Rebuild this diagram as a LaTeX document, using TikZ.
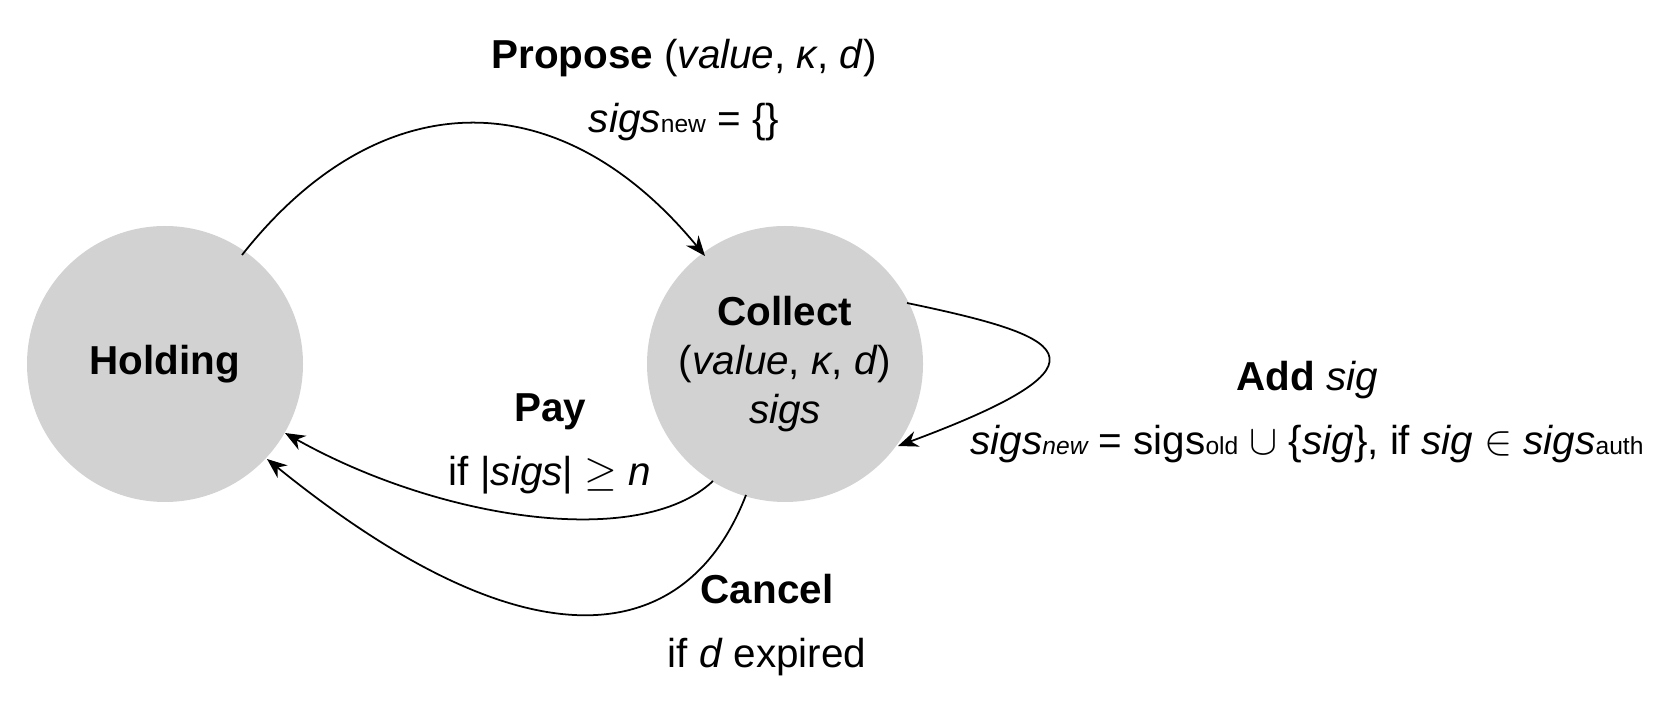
\documentclass[tikz,border=0pt]{standalone}
\usepackage{fontspec}
\setmainfont{Liberation Sans}
\usetikzlibrary{arrows.meta}
\begin{document}
\begin{tikzpicture}[
  st/.style={circle,fill=gray!35,minimum size=2.76cm,inner sep=0pt,align=center,font=\fontsize{11.5}{14}\selectfont},
  lb/.style={align=center,font=\fontsize{11.5}{16}\selectfont},
  ar/.style={-{Stealth[length=2mm,width=1.6mm]},line width=0.5pt}]
\useasboundingbox (0,0) rectangle (16.78,7.10);
\node[st] (H) at (1.65,3.46) {\textbf{Holding}};
\node[st] (C) at (7.85,3.46) {\textbf{Collect}\\(\textit{value}, \textit{κ}, \textit{d})\\\textit{sigs}};
\node[lb] (P) at (6.84,6.2) {\textbf{Propose} (\textit{value}, \textit{κ}, \textit{d})\\[2pt]\textit{sigs}{\scriptsize new} = \{\}};
\node[lb] (A) at (13.07,2.98) {\textbf{Add} \textit{sig}\\[2pt]\textit{sigs}{\scriptsize\itshape new} = sigs{\scriptsize old} $\cup$ \{\textit{sig}\}, if \textit{sig} $\in$ \textit{sigs}{\scriptsize auth}};
\node[lb] (Py) at (5.5,2.66) {\textbf{Pay}\\[2pt]if |\textit{sigs}| $\geq$ \textit{n}};
\node[lb] (Cn) at (7.67,0.85) {\textbf{Cancel}\\[2pt]if \textit{d} expired};
\coordinate (p1) at (2.42,4.55);
\coordinate (p2) at (7.05,4.54);
\draw[ar] (p1) .. controls (3.8,6.3) and (5.6,6.3) .. (p2);
\coordinate (s1) at (9.07,4.07);
\coordinate (s2) at (8.98,2.64);
\draw[ar] (s1) .. controls (10.6,3.75) and (11.3,3.5) .. (s2);
\coordinate (y1) at (7.13,2.29);
\coordinate (y2) at (2.85,2.77);
\draw[ar] (y1) .. controls (6.4,1.6) and (4.4,1.9) .. (y2);
\coordinate (c1) at (7.46,2.15);
\coordinate (c2) at (2.67,2.51);
\draw[ar] (c1) .. controls (6.9,0.7) and (5.4,0.3) .. (c2);
\end{tikzpicture}
\end{document}
